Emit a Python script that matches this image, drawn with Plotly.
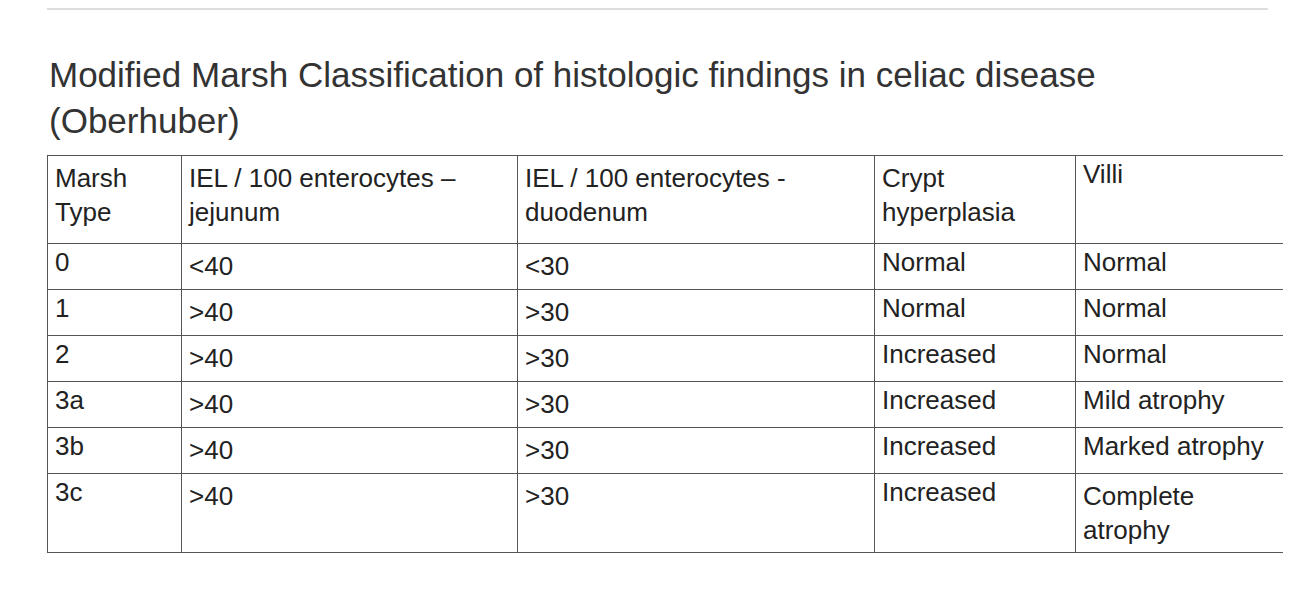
import plotly.graph_objects as go

# -----------------------------
# table data
# -----------------------------
headers = ["Marsh<br>Type", "IEL / 100 enterocytes –<br>jejunum", "IEL / 100 enterocytes -<br>duodenum",
           "Crypt<br>hyperplasia", "Villi"]
marsh_type = ["0", "1", "2", "3a", "3b", "3c"]
iel_jejunum = ["<40", ">40", ">40", ">40", ">40", ">40"]
iel_duodenum = ["<30", ">30", ">30", ">30", ">30", ">30"]
crypt = ["Normal", "Normal", "Increased", "Increased", "Increased", "Increased"]
villi = ["Normal", "Normal", "Normal", "Mild atrophy", "Marked atrophy", "Complete<br>atrophy"]

col_widths = [134, 336, 357, 201, 224]

fig = go.Figure(go.Table(
    domain=dict(x=[39 / 1291, 1.0], y=[0.0, 1 - 147 / 605]),
    columnwidth=col_widths,
    header=dict(values=headers, align="left", height=88,
                line=dict(color="#555555", width=1), fill=dict(color="white"),
                font=dict(family="Liberation Sans, Arial", size=26, color="#222222")),
    cells=dict(values=[marsh_type, iel_jejunum, iel_duodenum, crypt, villi], align="left", height=46,
               line=dict(color="#555555", width=1), fill=dict(color="white"),
               font=dict(family="Liberation Sans, Arial", size=26, color="#222222")),
))

fig.update_layout(
    width=1291, height=605, margin=dict(l=0, r=0, t=0, b=0),
    paper_bgcolor="white", plot_bgcolor="white",
    shapes=[dict(type="line", xref="paper", yref="paper", x0=39 / 1291, x1=1260 / 1291,
                 y0=1 - 1 / 605, y1=1 - 1 / 605, line=dict(color="#dddddd", width=2))],
    annotations=[dict(text="Modified Marsh Classification of histologic findings in celiac disease<br>(Oberhuber)",
                      xref="paper", yref="paper", x=39 / 1291, y=1 - 45 / 605, xanchor="left", yanchor="top",
                      align="left", showarrow=False,
                      font=dict(family="Liberation Sans, Arial", size=35, color="#333333"))],
)

fig.write_html("out.html")
